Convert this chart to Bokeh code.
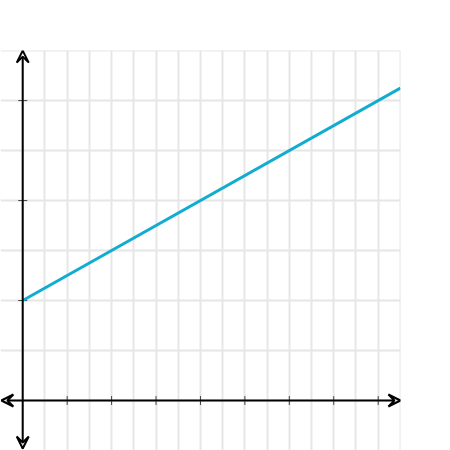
from bokeh.plotting import figure
from bokeh.models import Range1d, Arrow, VeeHead, SingleIntervalTicker
from bokeh.embed import file_html
from bokeh.resources import INLINE

# data
line_x = [0, 17]
line_y = [2, 6.25]
x_ticks = [2, 4, 6, 8, 10, 12, 14, 16]
y_ticks = [2, 4, 6]
x_min, x_max = -1.0, 17.0
y_min, y_max = -1.0, 7.0

pad_x = 0.004
pad_y = 0.002
p = figure(width=450, height=450, output_backend="svg", toolbar_location=None,
           x_range=Range1d(x_min, x_max + pad_x), y_range=Range1d(y_min, y_max + pad_y),
           min_border_left=0, min_border_right=50, min_border_top=50, min_border_bottom=0)
p.outline_line_color = None
p.xaxis.visible = False
p.yaxis.visible = False
p.xgrid.ticker = SingleIntervalTicker(interval=1)
p.ygrid.ticker = SingleIntervalTicker(interval=1)
for g in (p.xgrid, p.ygrid):
    g.grid_line_color = "#e6e6e6"
    g.grid_line_width = 2

# axes with arrow heads
arrow_x0 = x_min + 0.04
arrow_y0 = y_min + 0.04
p.add_layout(Arrow(x_start=arrow_x0, y_start=0, x_end=x_max, y_end=0,
                   line_color="black", line_width=2,
                   start=VeeHead(size=12, line_color="black", line_width=2, fill_alpha=0),
                   end=VeeHead(size=12, line_color="black", line_width=2, fill_alpha=0)))
p.add_layout(Arrow(x_start=0, y_start=arrow_y0, x_end=0, y_end=y_max,
                   line_color="black", line_width=2,
                   start=VeeHead(size=12, line_color="black", line_width=2, fill_alpha=0),
                   end=VeeHead(size=12, line_color="black", line_width=2, fill_alpha=0)))

# ticks
p.dash(x=x_ticks, y=[0] * len(x_ticks), size=9, angle=1.5708, line_color="#444444", line_width=1)
p.dash(x=[0] * len(y_ticks), y=y_ticks, size=9, line_color="#444444", line_width=1)

p.line(line_x, line_y, line_color="#11acd0", line_width=3)

open("out.html", "w").write(file_html(p, INLINE))
